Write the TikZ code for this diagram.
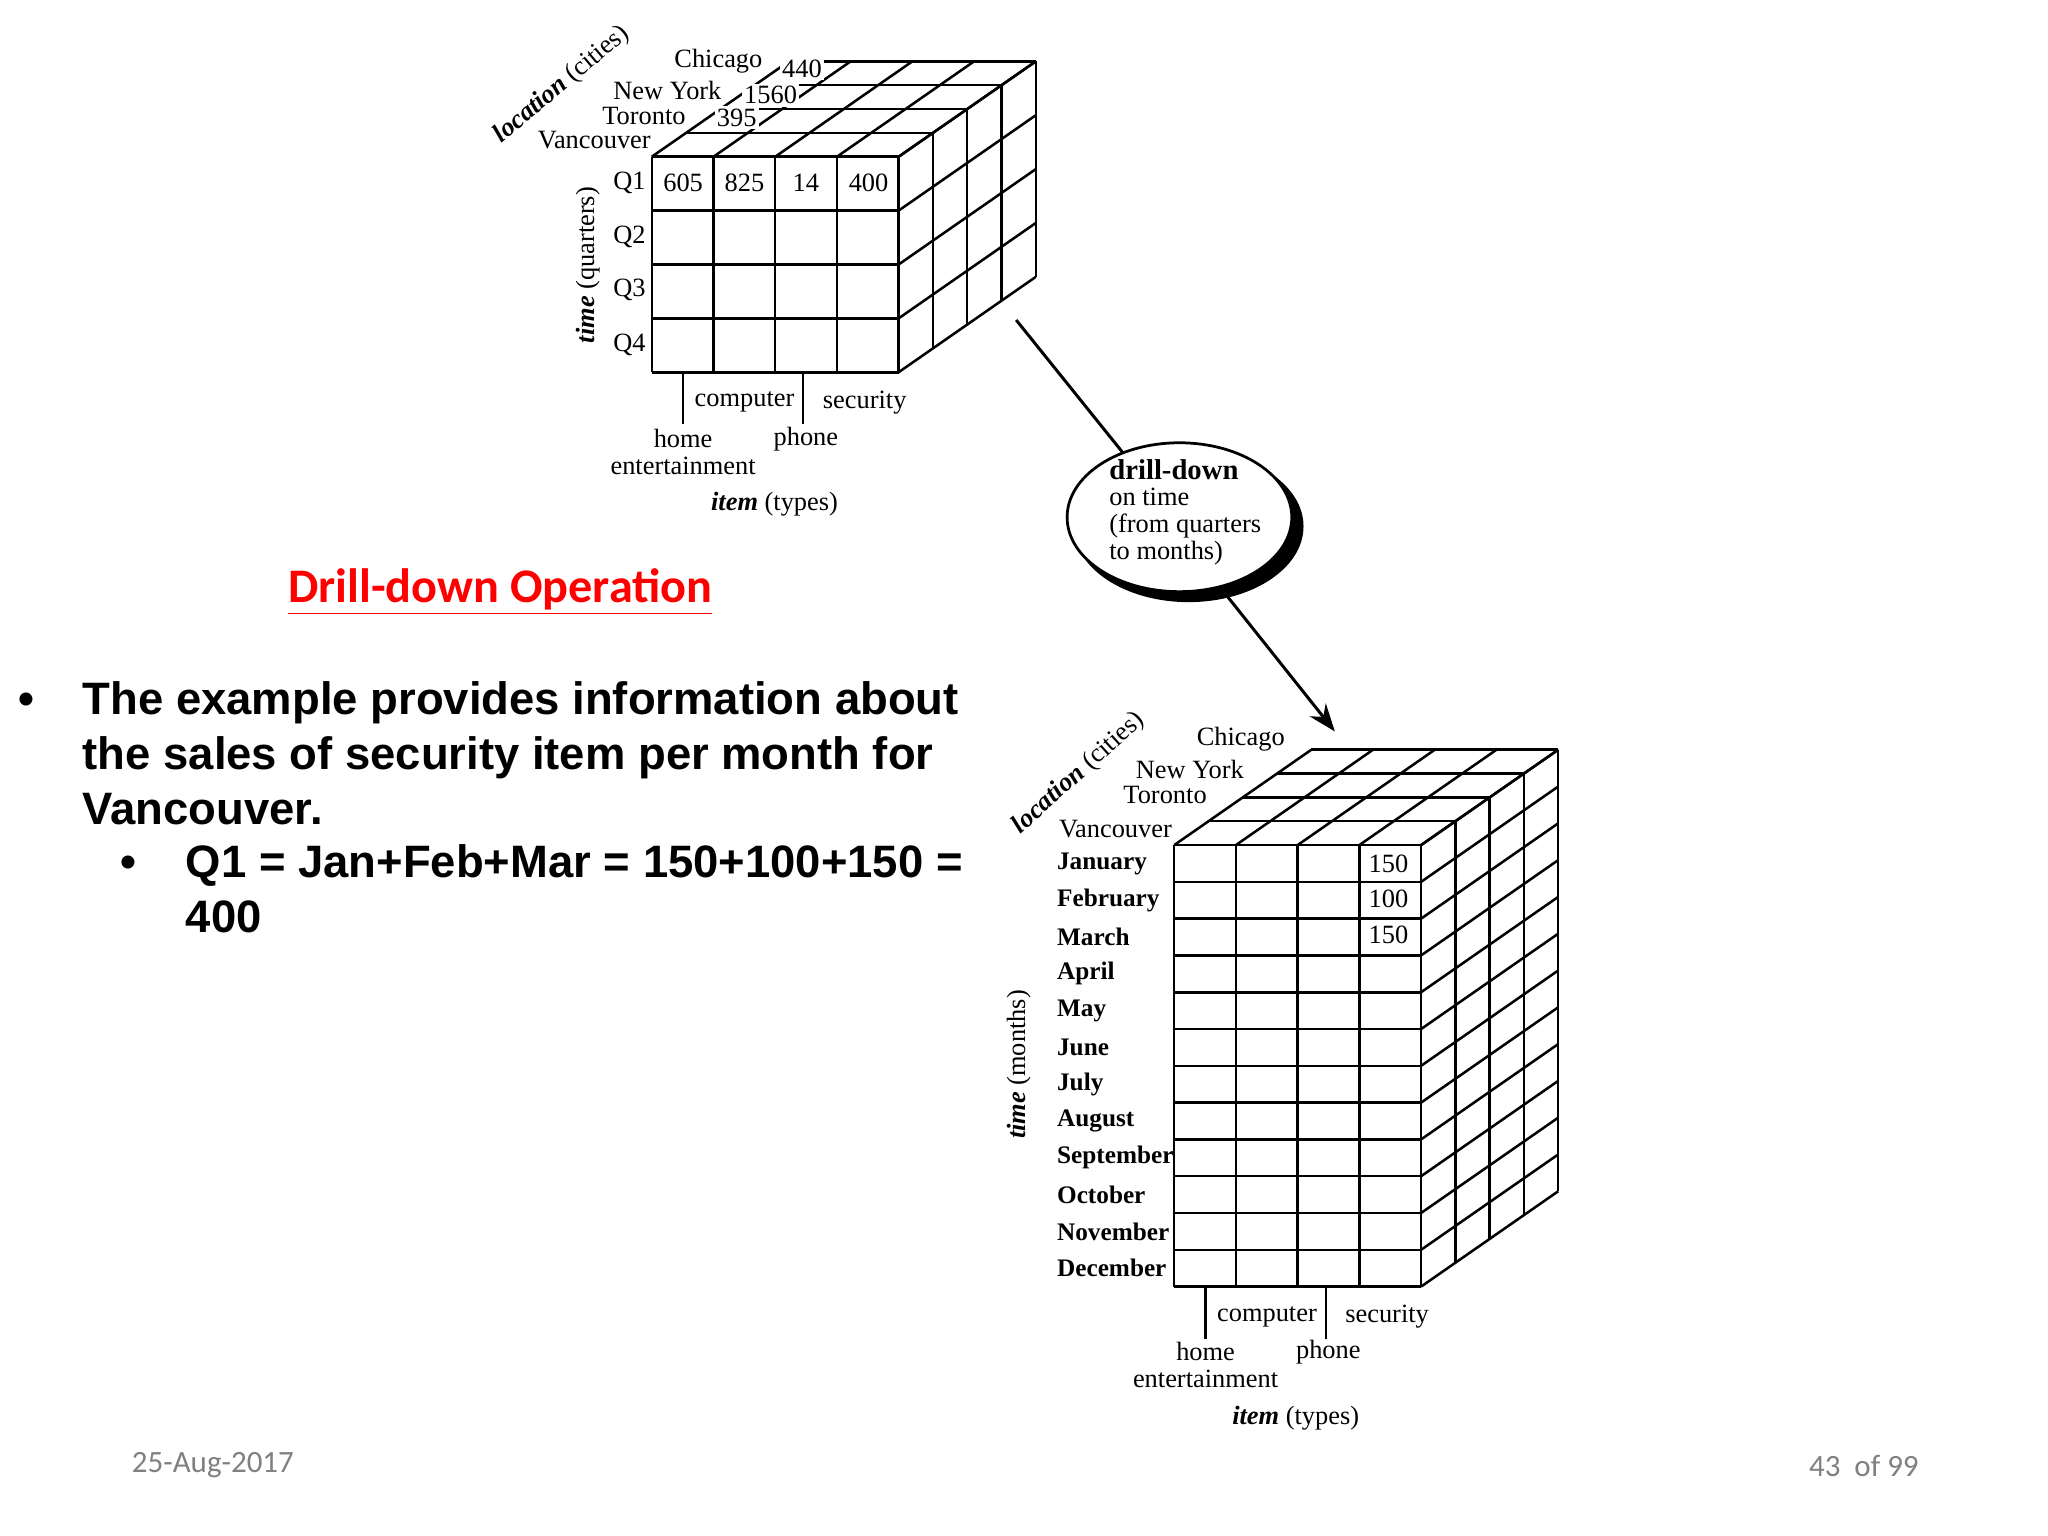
\documentclass[tikz,border=0pt]{standalone}
\usepackage{fontspec}
\setmainfont{Liberation Serif}
\newfontfamily\arialf{Liberation Sans}
\newfontfamily\calf{Carlito}
\usetikzlibrary{arrows.meta}
\newcommand\drawcube[4]{%
 \pgfmathsetmacro\xe{#1+4*47.25}%
 \pgfmathsetmacro\ye{#2+#3*#4}%
 \foreach \i in {0,...,4}{\draw[cubeline] ({#1+\i*47.25},#2) -- ({#1+\i*47.25},\ye);
   \draw[cubeline] ({#1+\i*47.25},#2) -- ++(105,-73);}
 \foreach \j in {0,...,#3}{\draw[cubeline] (#1,{#2+\j*#4}) -- (\xe,{#2+\j*#4});
   \draw[cubeline] (\xe,{#2+\j*#4}) -- ++(105,-73);}
 \foreach \k in {1,...,4}{\draw[cubeline] ({#1+\k*26.25},{#2-\k*18.25}) -- ++(189,0);
   \draw[cubeline] ({\xe+\k*26.25},{#2-\k*18.25}) -- ++(0,{#3*#4});}
}
\tikzset{cubeline/.style={line width=1.1pt},
 lab/.style={font=\fontsize{11.5}{12}\selectfont, inner sep=0pt},
 mon/.style={font=\fontsize{11}{12}\selectfont\bfseries, anchor=west, inner sep=0pt},
 bul/.style={font=\arialf\bfseries\fontsize{19.8}{24}\selectfont, anchor=base west, inner sep=0pt}}
\begin{document}
\begin{tikzpicture}[x=0.02cm,y=-0.02cm]
\useasboundingbox (0,0) rectangle (1568,1176);
\fill[white] (0,0) rectangle (1568,1176);
% top cube
\drawcube{499}{120}{4}{41.25}
\foreach \t/\y in {Q1/140,Q2/181,Q3/222,Q4/264}{\node[lab] (\t) at (482,\y) {\t};}
\foreach \v/\x in {605/523,825/570,14/617,400/665}{\node[lab] (v\v) at (\x,140) {\v};}
\node[lab] (tc) at (550,47) {Chicago};
\node[lab] (tn) at (511,69) {New York};
\node[lab] (tt) at (493,89) {Toronto};
\node[lab] (tv) at (455,107) {Vancouver};
\node[lab,fill=white,inner sep=1pt] (n440) at (614,53) {440};
\node[lab,fill=white,inner sep=1pt] (n1560) at (590,73) {1560};
\node[lab,fill=white,inner sep=1pt] (n395) at (564,90) {395};
\node[lab,rotate=90] (tq) at (450,203) {\textbf{\textit{time}} (quarters)};
\node[lab,rotate=40] (tl) at (430,65) {\textbf{\textit{location}} (cities)};
\draw[line width=1pt] (523,285) -- (523,325) (615,285) -- (615,325);
\node[lab] (i1) at (570,308) {computer};
\node[lab] (i2) at (662,308) {security};
\node[lab] (i3) at (523,336) {home};
\node[lab] (i4) at (523,357) {entertainment};
\node[lab] (i5) at (617,336) {phone};
\node[lab] (i6) at (593,386) {\textbf{\textit{item}} (types)};
% ellipse
\fill[black] (910,403) ellipse (88 and 58);
\draw[line width=1.2pt,fill=white] (903,396) ellipse (86 and 57);
\node[lab,anchor=west,align=left,font=\fontsize{11.5}{11.6}\selectfont] (dd) at (849,392)
 {{\fontsize{12.5}{11.6}\selectfont\textbf{drill-down}}\\on time\\(from quarters\\to months)};
\coordinate (c1) at (778,245);
\coordinate (e1) at (860,347);
\coordinate (e2) at (940,457);
\coordinate (c2) at (1022,560);
\draw[line width=1.3pt] (c1) -- (e1);
\draw[line width=1.3pt,-{Stealth[length=12,width=9]}] (e2) -- (c2);
% bottom cube
\drawcube{899}{647}{12}{28.17}
\foreach \m [count=\r] in {January,February,March,April,May,June,July,August,September,October,November,December}{
 \node[mon] (m\r) at (809,{647+(\r-0.5)*28.17}) {\m};}
\node[lab] (b1) at (1063,661) {150};
\node[lab] (b2) at (1063,688) {100};
\node[lab] (b3) at (1063,716) {150};
\node[lab] (bc) at (950,566) {Chicago};
\node[lab] (bn) at (911,589) {New York};
\node[lab] (bt) at (892,609) {Toronto};
\node[lab] (bv) at (854,635) {Vancouver};
\node[lab,rotate=90] (bm) at (780,815) {\textbf{\textit{time}} (months)};
\node[lab,rotate=42] (bl) at (826,592) {\textbf{\textit{location}} (cities)};
\draw[line width=1pt] (923,985) -- (923,1025) (1015,985) -- (1015,1025);
\node[lab] (j1) at (970,1008) {computer};
\node[lab] (j2) at (1062,1008) {security};
\node[lab] (j3) at (923,1035) {home};
\node[lab] (j4) at (923,1056) {entertainment};
\node[lab] (j5) at (1017,1035) {phone};
\node[lab] (j6) at (992,1086) {\textbf{\textit{item}} (types)};
% text
\node[font=\calf\bfseries\fontsize{21}{24}\selectfont, text=red, inner sep=0pt] (title) at (383,453) {\underline{Drill-down Operation}};
\node[bul] (bu1) at (14,547) {•};
\node[bul] (l1) at (63,547) {The example provides information about};
\node[bul] (l2) at (63,589) {the sales of security item per month for};
\node[bul] (l3) at (63,631) {Vancouver.};
\node[bul] (bu2) at (92,672) {•};
\node[bul] (l4) at (142,672) {Q1 = Jan+Feb+Mar = 150+100+150 =};
\node[bul] (l5) at (142,714) {400};
\node[font=\calf\fontsize{13.5}{15}\selectfont, text=gray] (d) at (163,1122) {25-Aug-2017};
\node[font=\calf\fontsize{13.5}{15}\selectfont, text=gray] (p) at (1427,1122) {43\ \ of 99};
\end{tikzpicture}
\end{document}
